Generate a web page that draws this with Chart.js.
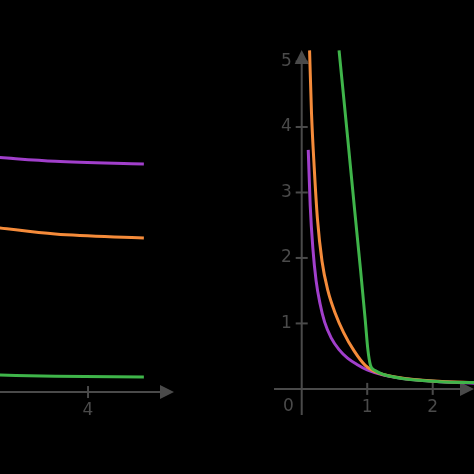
<!DOCTYPE html>
<html>
<head>
<script src="https://cdn.jsdelivr.net/npm/chart.js@4"></script>
<style>
body{margin:0;background:#000;width:474px;height:474px;overflow:hidden;position:relative}
canvas{position:absolute;top:0}
</style>
</head>
<body>
<canvas id="leftChart" width="180" height="474" style="left:0"></canvas>
<canvas id="rightChart" width="204" height="474" style="left:270px"></canvas>
<script>
// right panel readings
const purpleX = [0.1, 0.13, 0.17, 0.22, 0.28, 0.35, 0.45, 0.57, 0.7, 0.85, 1.0, 1.25, 1.6, 2.1, 2.7];
const purpleY = [3.65, 2.8, 2.15, 1.65, 1.3, 1.02, 0.78, 0.6, 0.47, 0.37, 0.29, 0.21, 0.15, 0.11, 0.085];
const orangeX = [0.12, 0.15, 0.19, 0.24, 0.31, 0.4, 0.51, 0.64, 0.8, 0.97, 1.18, 1.5, 2.0, 2.7];
const orangeY = [5.17, 4.2, 3.4, 2.6, 1.95, 1.5, 1.16, 0.86, 0.58, 0.36, 0.24, 0.17, 0.12, 0.095];
const greenX = [0.57, 0.7, 0.81, 0.9, 0.97, 1.01, 1.05, 1.12, 1.25, 1.6, 2.1, 2.7];
const greenY = [5.17, 3.85, 2.71, 1.8, 1.05, 0.6, 0.36, 0.28, 0.22, 0.15, 0.11, 0.095];
// left panel readings
const leftX = [2.6, 3.5, 4.85];
const leftPurple = [3.58, 3.52, 3.48];
const leftOrange = [2.51, 2.41, 2.35];
const leftGreen = [0.26, 0.24, 0.23];
const yTicks = [1, 2, 3, 4, 5];
const xTicksRight = [1, 2];
const xTicksLeft = [4];

const colors = {purple: "#a13fcb", orange: "#f58b3a", green: "#3fb54a"};
const axisColor = "#4a4a4a";

function pts(xs, ys) {
  return xs.map((x, i) => ({x: x, y: ys[i]}));
}
function ds(data, color) {
  return {data: data, borderColor: color, borderWidth: 3, pointRadius: 0,
    cubicInterpolationMode: "monotone", fill: false};
}

function arrow(ctx, x, y, dir) {
  ctx.beginPath();
  if (dir === "right") { ctx.moveTo(x, y); ctx.lineTo(x - 14, y - 7); ctx.lineTo(x - 14, y + 7); }
  else { ctx.moveTo(x, y); ctx.lineTo(x - 7, y + 14); ctx.lineTo(x + 7, y + 14); }
  ctx.closePath();
  ctx.fill();
}

function axesPlugin(opts) {
  return {
    id: "axes",
    beforeDatasetsDraw(chart) {
      const ctx = chart.ctx, sx = chart.scales.x, sy = chart.scales.y;
      ctx.save();
      ctx.strokeStyle = axisColor; ctx.fillStyle = axisColor; ctx.lineWidth = 2;
      const y0 = sy.getPixelForValue(0), x0 = sx.getPixelForValue(0);
      ctx.beginPath(); ctx.moveTo(opts.xStart, y0); ctx.lineTo(opts.xEnd - 10, y0); ctx.stroke();
      arrow(ctx, opts.xEnd, y0, "right");
      ctx.font = "17px 'DejaVu Sans'";
      ctx.textAlign = "center"; ctx.textBaseline = "top";
      opts.xTicks.forEach(t => {
        const px = sx.getPixelForValue(t);
        ctx.beginPath(); ctx.moveTo(px, y0 - 6); ctx.lineTo(px, y0 + 6); ctx.stroke();
        ctx.fillText(String(t), px, y0 + 10);
      });
      if (opts.yAxis) {
        ctx.beginPath(); ctx.moveTo(x0, y0 + 26); ctx.lineTo(x0, 62); ctx.stroke();
        arrow(ctx, x0, 50, "up");
        ctx.textAlign = "right"; ctx.textBaseline = "middle";
        yTicks.forEach(t => {
          const py = sy.getPixelForValue(t);
          ctx.beginPath(); ctx.moveTo(x0 - 6, py); ctx.lineTo(x0 + 6, py); ctx.stroke();
          ctx.fillText(String(t), x0 - 10, py);
        });
        ctx.fillText("0", x0 - 8, y0 + 18);
      }
      ctx.restore();
    }
  };
}

function makeChart(id, datasets, xr, yr, plugOpts) {
  new Chart(document.getElementById(id), {
    type: "line",
    data: {datasets: datasets},
    options: {
      responsive: false, animation: false,
      layout: {padding: 0},
      plugins: {legend: {display: false}, tooltip: {enabled: false}},
      scales: {
        x: {type: "linear", min: xr[0], max: xr[1], display: false},
        y: {type: "linear", min: yr[0], max: yr[1], display: false}
      }
    },
    plugins: [axesPlugin(plugOpts)]
  });
}

makeChart("rightChart", [
  ds(pts(greenX, greenY), colors.green),
  ds(pts(orangeX, orangeY), colors.orange),
  ds(pts(purpleX, purpleY), colors.purple)
], [-0.484, 2.63], [-1.3, 5.94], {xStart: 4, xEnd: 204, xTicks: xTicksRight, yAxis: true});

makeChart("leftChart", [
  ds(pts(leftX, leftGreen), colors.green),
  ds(pts(leftX, leftOrange), colors.orange),
  ds(pts(leftX, leftPurple), colors.purple)
], [2.66, 5.40], [-1.25, 5.98], {xStart: 0, xEnd: 174, xTicks: xTicksLeft, yAxis: false});
</script>
</body>
</html>
